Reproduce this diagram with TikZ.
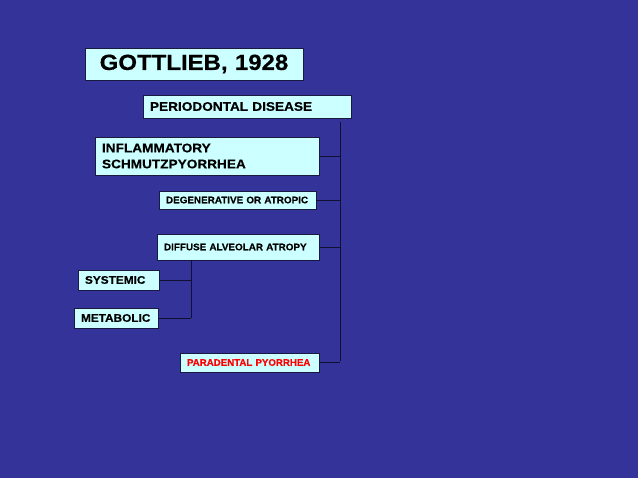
\documentclass[tikz,border=0pt]{standalone}
\usepackage{fontspec}
\setmainfont{Liberation Sans}
\newfontfamily\wideA{Liberation Sans}[FakeStretch=1.09,FakeBold=0.4]
\newfontfamily\wideB{Liberation Sans}[FakeStretch=1.04,FakeBold=0.4]
\newfontfamily\wideC{Liberation Sans}[FakeStretch=1.075,FakeBold=0.4]
\newfontfamily\wideD{Liberation Sans}[FakeStretch=1.02,FakeBold=0.4]
\definecolor{bg}{HTML}{333399}
\definecolor{boxfill}{HTML}{CCFFFF}
\definecolor{edge}{HTML}{1A1A40}
\definecolor{linec}{HTML}{101030}
\begin{document}
\begin{tikzpicture}[x=1pt,y=-1pt,
  lbl/.style={draw=edge,line width=0.9pt,fill=boxfill,inner xsep=7pt,inner ysep=0pt,align=left,
    execute at begin node={\hyphenpenalty=10000\exhyphenpenalty=10000}},
  conn/.style={draw=linec,line width=0.9pt}]
\fill[bg] (0,0) rectangle (638,478);
\useasboundingbox (0,0) rectangle (638,478);
\node[lbl,text width=204pt,minimum height=32pt,inner xsep=7pt,font=\wideA\bfseries\fontsize{22}{25}\selectfont,align=center] (title) at (194,64) {GOTTLIEB, 1928};
\node[lbl,text width=194pt,minimum height=23pt,font=\wideA\bfseries\fontsize{12.5}{14}\selectfont] (pd) at (247,106.5) {PERIODONTAL DISEASE};
\node[lbl,text width=210pt,minimum height=38pt,font=\wideA\bfseries\fontsize{12.5}{16}\selectfont] (inf) at (207,156) {INFLAMMATORY\\SCHMUTZPYORRHEA};
\node[lbl,text width=143pt,minimum height=18pt,font=\wideB\bfseries\fontsize{9.5}{11}\selectfont] (deg) at (237.5,200) {DEGENERATIVE OR ATROPIC};
\node[lbl,text width=148pt,minimum height=26pt,font=\wideB\bfseries\fontsize{9.5}{11}\selectfont] (dif) at (238,247) {DIFFUSE ALVEOLAR ATROPY};
\node[lbl,text width=67pt,minimum height=20pt,font=\wideC\bfseries\fontsize{11}{13}\selectfont] (sys) at (118.5,280) {SYSTEMIC};
\node[lbl,text width=70pt,minimum height=20pt,font=\wideC\bfseries\fontsize{11}{13}\selectfont] (met) at (116,318) {METABOLIC};
\node[lbl,text width=125pt,minimum height=19pt,font=\wideD\bfseries\fontsize{9.5}{11}\selectfont,text=red] (par) at (249.5,362.5) {PARADENTAL PYORRHEA};
% trunk
\coordinate (ttop) at (340,122);
\coordinate (tbot) at (340,361);
\draw[conn] (ttop) -- (tbot);
\draw[conn] (inf.east) -- (inf.east -| ttop);
\draw[conn] (deg.east) -- (deg.east -| ttop);
\draw[conn] (dif.east) -- (dif.east -| ttop);
\draw[conn] (par.east) -- (par.east -| ttop);
% sub branch
\coordinate (sbot) at (191,318);
\draw[conn] (dif.south -| sbot) -- (sbot);
\draw[conn] (sys.east) -- (sys.east -| sbot);
\draw[conn] (met.east) -- (sbot);
\end{tikzpicture}
\end{document}
